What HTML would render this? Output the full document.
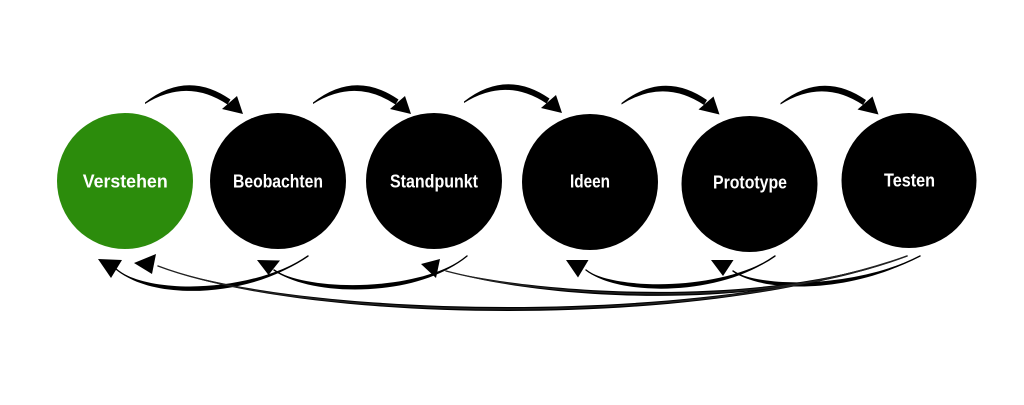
<!DOCTYPE html>
<html>
<head>
<meta charset="utf-8">
<style>
  html, body { margin: 0; padding: 0; background: #ffffff; }
  body { width: 1024px; height: 405px; overflow: hidden; }
  svg { display: block; }
  text { font-family: "Liberation Sans", Arial, sans-serif; font-weight: bold; font-size: 18px; fill: #ffffff; }
</style>
</head>
<body>
<svg width="1024" height="405" viewBox="0 0 1024 405" xmlns="http://www.w3.org/2000/svg">
  <rect width="1024" height="405" fill="#ffffff"/>

  <!-- Circles -->
  <circle cx="125" cy="181" r="68" fill="#2c8c0c"/>
  <circle cx="278" cy="181" r="68" fill="#000"/>
  <circle cx="434" cy="181" r="68" fill="#000"/>
  <circle cx="590" cy="182" r="68" fill="#000"/>
  <circle cx="749.5" cy="184" r="68" fill="#000"/>
  <circle cx="909" cy="180.5" r="67.5" fill="#000"/>

  <!-- Labels -->
  <text x="125.2" y="187.3" text-anchor="middle" textLength="85" lengthAdjust="spacingAndGlyphs">Verstehen</text>
  <text x="278" y="187.3" text-anchor="middle" textLength="90" lengthAdjust="spacingAndGlyphs">Beobachten</text>
  <text x="434" y="187.3" text-anchor="middle" textLength="88" lengthAdjust="spacingAndGlyphs">Standpunkt</text>
  <text x="590" y="187.3" text-anchor="middle" textLength="40" lengthAdjust="spacingAndGlyphs">Ideen</text>
  <text x="750" y="188.3" text-anchor="middle" textLength="74" lengthAdjust="spacingAndGlyphs">Prototype</text>
  <text x="909.5" y="186.7" text-anchor="middle" textLength="51" lengthAdjust="spacingAndGlyphs">Testen</text>

  <!-- Top arrows -->
  <defs>
    <g id="toparrow">
      <path d="M145,102.5 Q187,69.5 230.5,99.5 L227.5,104.5 Q187,77.5 145,104 Z" fill="#000"/>
      <polygon points="237,96 222,109 243,114" fill="#000"/>
    </g>
  </defs>
  <use href="#toparrow"/>
  <use href="#toparrow" transform="translate(168,0)"/>
  <use href="#toparrow" transform="translate(319,-1)"/>
  <use href="#toparrow" transform="translate(476.5,0.5)"/>
  <use href="#toparrow" transform="translate(635.5,0.5)"/>

  <!-- Bottom return curves (tapered brush strokes) -->
  <g fill="#000">
    <path d="M116,269 C150,295 250,293 308,256 C250,299 150,301 116,269 Z"/>
    <path d="M274,270 C310,292 420,292 467,256 C420,298 310,298 274,270 Z"/>
    <path d="M586,270 C615,290 720,292 775,256 C720,298 615,296 586,270 Z"/>
    <path d="M733,271 C760,287.2 850,289.2 920,256 C850,294.8 760,292.8 733,271 Z"/>
    <path d="M446,271 C540,293.3 760,309.3 907,256 C760,314.7 540,298.7 446,271 Z"/>
    <path d="M158,266 C300,317.3 700,327.3 907,256 C700,332.7 300,322.7 158,266 Z"/>
  </g>
  <g fill="none" stroke="#000" stroke-width="1.4" stroke-linecap="round">
    <path d="M116,269 C150,298 250,296 308,256"/>
    <path d="M274,270 C310,295 420,295 467,256"/>
    <path d="M586,270 C615,293 720,295 775,256"/>
    <path d="M733,271 C760,290 850,292 920,256"/>
    <path d="M446,271 C540,296 760,312 907,256" stroke="#222"/>
    <path d="M158,266 C300,320 700,330 907,256" stroke="#222"/>
  </g>

  <!-- Bottom arrowheads -->
  <g fill="#000">
    <polygon points="98,259 122,260 111,278"/>
    <polygon points="134,263 156,254 152,274"/>
    <polygon points="257,260 280,260.5 268.5,275"/>
    <polygon points="421,264 440,259 436,278"/>
    <polygon points="566,260 588.5,260 578,277.5"/>
    <polygon points="711,260 733.5,260 723,276"/>
  </g>
</svg>
</body>
</html>
